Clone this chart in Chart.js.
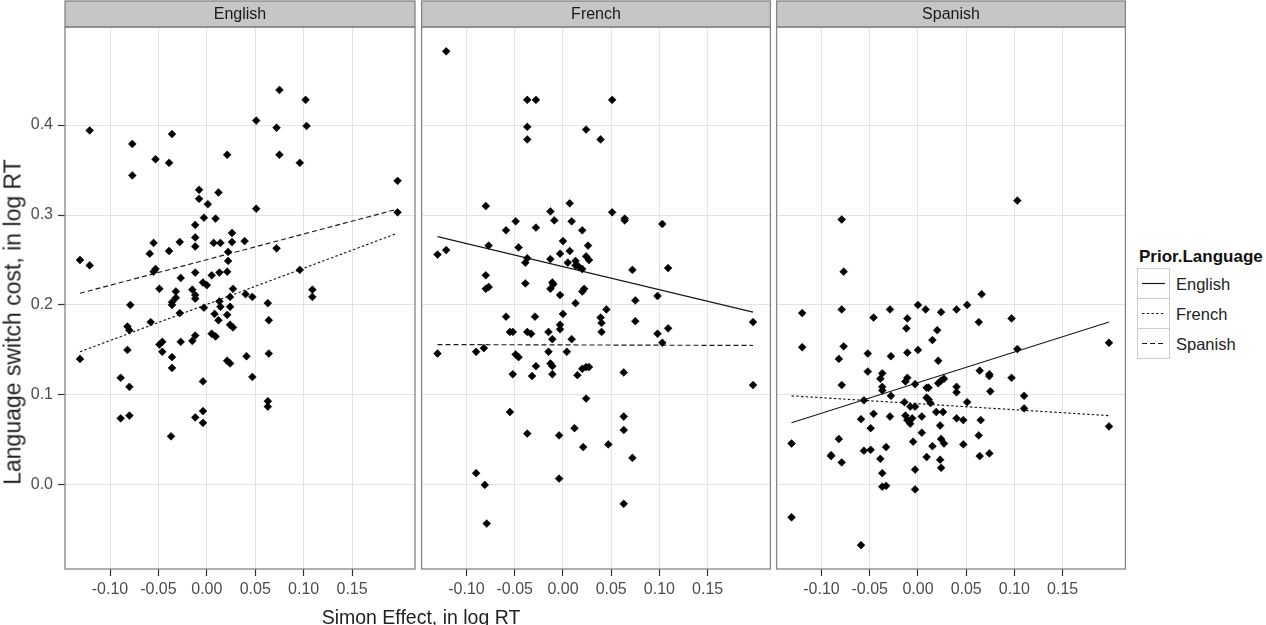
<!DOCTYPE html>
<html>
<head>
<meta charset="utf-8">
<script src="https://cdn.jsdelivr.net/npm/chart.js@4.4.1/dist/chart.umd.min.js"></script>
<style>
  html, body { margin: 0; padding: 0; background: #fff; }
  body { width: 1266px; height: 625px; position: relative; overflow: hidden; font-family: "Liberation Sans", Arial, sans-serif; }
  canvas { position: absolute; top: 0; }
  #ytitle { position: absolute; left: 13px; top: 322px; transform: translate(-50%, -50%) rotate(-90deg); white-space: nowrap; font-size: 23px; line-height: 1; color: #222; }
  #xtitle { position: absolute; left: 421px; top: 617.5px; transform: translate(-50%, -50%); white-space: nowrap; font-size: 19.5px; line-height: 1; color: #222; }
  .ltitle { position: absolute; left: 1139px; top: 256px; transform: translateY(-50%); font-weight: bold; font-size: 17px; line-height: 1; color: #111; white-space: nowrap; }
  .key { position: absolute; left: 1137px; width: 31px; height: 29px; border: 1px solid #cccccc; background: #fff; }
  .key svg { position: absolute; left: 0; top: 0; }
  .lab { position: absolute; left: 1176px; transform: translateY(-50%); font-size: 16.5px; line-height: 1; color: #222; white-space: nowrap; }
</style>
</head>
<body>
<canvas id="chart-0" width="420" height="625" style="left:0px"></canvas>
<canvas id="chart-1" width="358" height="625" style="left:416.6px"></canvas>
<canvas id="chart-2" width="358" height="625" style="left:772.2px"></canvas>

<div id="ytitle">Language switch cost, in log RT</div>
<div id="xtitle">Simon Effect, in log RT</div>

<div class="ltitle">Prior.Language</div>
<div class="key" style="top:268px"><svg width="31" height="29"><line x1="4" y1="14.5" x2="27" y2="14.5" stroke="#1a1a1a" stroke-width="1.2"/></svg></div>
<div class="key" style="top:298px"><svg width="31" height="29"><line x1="4" y1="14.5" x2="27" y2="14.5" stroke="#1a1a1a" stroke-width="1.2" stroke-dasharray="2.5 2.2"/></svg></div>
<div class="key" style="top:328px"><svg width="31" height="29"><line x1="4" y1="14.5" x2="27" y2="14.5" stroke="#1a1a1a" stroke-width="1.2" stroke-dasharray="5 3"/></svg></div>
<div class="lab" style="top:284px">English</div>
<div class="lab" style="top:314px">French</div>
<div class="lab" style="top:344px">Spanish</div>

<script>
// facets
const panelNames = ['English', 'French', 'Spanish'];
const xTickValues = [-0.10, -0.05, 0.00, 0.05, 0.10, 0.15];
const yTickValues = [0.0, 0.1, 0.2, 0.3, 0.4];

// English panel points
const englishX = [0.075, 0.102, 0.051, 0.072, 0.103, -0.121, -0.036, -0.077, -0.053, -0.039,
  0.021, 0.075, 0.096, -0.077, 0.197, -0.008, 0.012, -0.008, 0.001, 0.051,
  -0.003, 0.009, 0.197, -0.012, -0.012, 0.026, -0.055, -0.028, 0.007, 0.014,
  0.026, 0.039, -0.012, -0.059, -0.039, 0.022, 0.072, -0.131, -0.121, 0.022,
  -0.053, -0.055, -0.012, 0.021, 0.013, 0.005, 0.096, -0.027, -0.004, 0.000,
  -0.049, -0.032, -0.015, 0.027, -0.032, -0.012, -0.012, 0.040, 0.047, 0.109,
  0.109, 0.024, 0.013, -0.036, -0.036, -0.079, -0.003, 0.014, 0.024, 0.063,
  0.008, 0.021, -0.028, 0.012, 0.064, -0.058, -0.082, -0.080, 0.024, 0.027,
  -0.012, -0.015, 0.005, 0.009, -0.049, -0.046, -0.027, -0.082, -0.046, -0.131,
  -0.036, -0.036, 0.021, 0.024, 0.041, 0.064, 0.047, -0.089, -0.080, -0.004,
  0.063, 0.063, -0.089, -0.080, -0.012, -0.004, -0.004, -0.037];
const englishY = [0.439, 0.428, 0.405, 0.397, 0.399, 0.394, 0.390, 0.379, 0.362, 0.358,
  0.367, 0.367, 0.358, 0.344, 0.338, 0.328, 0.325, 0.318, 0.312, 0.307,
  0.297, 0.296, 0.303, 0.289, 0.275, 0.280, 0.269, 0.270, 0.269, 0.269,
  0.270, 0.271, 0.265, 0.257, 0.260, 0.259, 0.263, 0.250, 0.244, 0.249,
  0.240, 0.237, 0.236, 0.237, 0.236, 0.233, 0.239, 0.230, 0.225, 0.222,
  0.218, 0.215, 0.217, 0.218, 0.208, 0.207, 0.211, 0.212, 0.209, 0.217,
  0.209, 0.209, 0.204, 0.203, 0.200, 0.200, 0.197, 0.198, 0.198, 0.202,
  0.190, 0.189, 0.191, 0.183, 0.183, 0.181, 0.176, 0.172, 0.178, 0.175,
  0.166, 0.160, 0.168, 0.165, 0.156, 0.159, 0.159, 0.150, 0.148, 0.140,
  0.142, 0.130, 0.138, 0.135, 0.143, 0.146, 0.120, 0.119, 0.109, 0.115,
  0.093, 0.087, 0.074, 0.077, 0.075, 0.082, 0.069, 0.054];

// French panel points
const frenchX = [-0.121, -0.037, -0.028, 0.051, -0.037, -0.037, 0.024, 0.039, -0.080, 0.007,
  -0.013, 0.051, -0.049, -0.009, 0.009, 0.064, 0.064, 0.103, -0.059, -0.028,
  0.020, 0.000, -0.077, -0.046, 0.026, -0.130, -0.121, 0.007, -0.003, -0.037,
  -0.039, -0.013, 0.005, 0.013, 0.013, 0.016, 0.020, 0.024, 0.027, 0.072,
  0.109, -0.080, -0.039, -0.011, -0.010, -0.013, -0.080, -0.077, -0.003, 0.020,
  0.022, 0.013, 0.075, 0.098, 0.045, -0.059, -0.029, 0.000, 0.039, 0.040,
  -0.003, -0.003, 0.075, 0.197, -0.055, -0.052, -0.037, -0.033, -0.015, -0.011,
  0.009, 0.040, 0.098, 0.109, 0.103, -0.130, -0.090, -0.082, -0.015, 0.004,
  -0.049, -0.046, -0.028, -0.013, -0.011, -0.011, -0.052, -0.032, 0.015, 0.020,
  0.024, 0.027, 0.063, 0.197, 0.024, -0.055, 0.063, 0.012, -0.037, -0.004,
  0.063, 0.047, 0.021, 0.072, -0.090, -0.081, -0.004, 0.063, -0.079];
const frenchY = [0.482, 0.428, 0.428, 0.428, 0.398, 0.384, 0.395, 0.384, 0.310, 0.313,
  0.304, 0.303, 0.293, 0.294, 0.293, 0.296, 0.294, 0.290, 0.283, 0.286,
  0.283, 0.271, 0.266, 0.264, 0.266, 0.256, 0.261, 0.260, 0.257, 0.252,
  0.247, 0.251, 0.247, 0.249, 0.244, 0.243, 0.240, 0.254, 0.250, 0.239,
  0.241, 0.233, 0.224, 0.225, 0.223, 0.218, 0.218, 0.220, 0.211, 0.215,
  0.218, 0.202, 0.205, 0.210, 0.195, 0.187, 0.187, 0.190, 0.186, 0.180,
  0.178, 0.173, 0.182, 0.181, 0.170, 0.170, 0.170, 0.168, 0.170, 0.162,
  0.162, 0.170, 0.168, 0.174, 0.158, 0.146, 0.148, 0.152, 0.148, 0.148,
  0.145, 0.142, 0.132, 0.135, 0.132, 0.123, 0.123, 0.121, 0.122, 0.129,
  0.131, 0.131, 0.125, 0.111, 0.096, 0.081, 0.076, 0.063, 0.057, 0.055,
  0.061, 0.045, 0.042, 0.030, 0.013, 0.000, 0.007, -0.021, -0.043];

// Spanish panel points
const spanishX = [0.103, -0.079, -0.077, 0.066, -0.120, -0.079, -0.046, -0.029, -0.011, 0.000,
  0.008, 0.024, 0.040, 0.051, 0.063, 0.097, -0.012, 0.020, 0.015, -0.120,
  -0.077, -0.082, -0.052, -0.028, -0.011, 0.000, 0.021, 0.103, 0.198, -0.052,
  -0.037, -0.039, -0.011, -0.013, 0.064, 0.074, 0.074, 0.097, 0.024, 0.027,
  0.021, -0.079, -0.037, -0.003, 0.009, 0.011, 0.040, -0.037, 0.040, 0.075,
  0.110, -0.028, -0.056, -0.014, 0.009, 0.011, 0.013, -0.008, -0.003, 0.051,
  0.110, -0.046, -0.029, -0.059, -0.013, -0.011, -0.008, -0.006, 0.004, 0.019,
  0.026, 0.040, 0.047, 0.065, -0.049, 0.023, 0.004, 0.198, -0.131, -0.082,
  -0.005, 0.024, 0.027, 0.047, 0.063, -0.090, -0.090, -0.079, -0.056, -0.049,
  -0.033, -0.039, 0.015, 0.009, 0.023, 0.024, 0.064, 0.074, -0.003, -0.037,
  -0.037, -0.033, -0.003, -0.131, -0.059];
const spanishY = [0.316, 0.295, 0.237, 0.212, 0.191, 0.195, 0.186, 0.195, 0.185, 0.200,
  0.195, 0.192, 0.195, 0.200, 0.181, 0.185, 0.174, 0.172, 0.161, 0.153,
  0.154, 0.140, 0.146, 0.143, 0.147, 0.150, 0.138, 0.151, 0.158, 0.126,
  0.124, 0.118, 0.119, 0.115, 0.127, 0.123, 0.121, 0.119, 0.116, 0.118,
  0.113, 0.111, 0.109, 0.112, 0.108, 0.108, 0.109, 0.105, 0.103, 0.104,
  0.099, 0.099, 0.094, 0.092, 0.097, 0.095, 0.091, 0.087, 0.087, 0.092,
  0.085, 0.079, 0.076, 0.073, 0.077, 0.072, 0.068, 0.074, 0.076, 0.081,
  0.081, 0.074, 0.072, 0.072, 0.063, 0.066, 0.058, 0.065, 0.046, 0.051,
  0.048, 0.051, 0.046, 0.045, 0.055, 0.033, 0.032, 0.025, 0.038, 0.039,
  0.042, 0.029, 0.043, 0.031, 0.028, 0.019, 0.032, 0.035, 0.017, 0.013,
  -0.002, -0.001, -0.005, -0.036, -0.067];

// regression lines (end points) per panel
const englishFitX = [-0.131, 0.195];
const englishFrenchFitY = [0.148, 0.279];
const englishSpanishFitY = [0.213, 0.306];
const frenchFitX = [-0.130, 0.197];
const frenchEnglishFitY = [0.276, 0.192];
const frenchSpanishFitY = [0.156, 0.155];
const spanishFitX = [-0.131, 0.198];
const spanishEnglishFitY = [0.069, 0.181];
const spanishFrenchFitY = [0.099, 0.077];

const FONT = '"Liberation Sans", Arial, sans-serif';
const SOLID = [];
const DOTTED = [2.5, 2.2];
const DASHED = [5, 3];

// strip on top + grey frame around each panel
const panelFrame = {
    id: 'panelFrame',
    afterDraw: function (chart, args, opts) {
        const a = chart.chartArea;
        const ctx = chart.ctx;
        ctx.save();
        ctx.fillStyle = '#c6c6c6';
        ctx.fillRect(a.left, 1, a.right - a.left, a.top - 1);
        ctx.strokeStyle = '#858585';
        ctx.lineWidth = 1.3;
        ctx.strokeRect(a.left, 1, a.right - a.left, a.top - 1);
        ctx.strokeRect(a.left, a.top, a.right - a.left, a.bottom - a.top);
        ctx.fillStyle = '#1a1a1a';
        ctx.font = '16px ' + FONT;
        ctx.textAlign = 'center';
        ctx.textBaseline = 'middle';
        ctx.fillText(opts.title, (a.left + a.right) / 2, 14.5);
        ctx.restore();
    }
};

function drawPanel(graphID, xs, ys, fitX, fits, showY, padLeft, padRight) {
    const points = xs.map(function (x, i) { return { x: x, y: ys[i] }; });
    const datasets = [{
        data: points,
        pointStyle: 'rectRot',
        pointRadius: 3.9,
        backgroundColor: '#000',
        borderColor: '#000',
        borderWidth: 0.6,
        showLine: false
    }];
    fits.forEach(function (f) {
        datasets.push({
            data: fitX.map(function (x, i) { return { x: x, y: f.y[i] }; }),
            showLine: true,
            pointRadius: 0,
            borderColor: '#1a1a1a',
            borderWidth: 1.15,
            borderDash: f.dash,
            fill: false
        });
    });

    const options = {
        responsive: false,
        maintainAspectRatio: false,
        animation: false,
        layout: { padding: { left: padLeft, right: padRight, top: 27, bottom: 0 } },
        scales: {
            x: {
                type: 'linear',
                min: -0.1465,
                max: 0.2150,
                afterBuildTicks: function (s) { s.ticks = xTickValues.map(function (v) { return { value: v }; }); },
                afterFit: function (s) { s.height = 56; },
                grid: { color: '#e3e3e3', lineWidth: 1, tickColor: '#333', tickLength: 7, tickWidth: 1.2 },
                border: { display: false },
                ticks: {
                    color: '#4d4d4d',
                    font: { family: FONT, size: 16 },
                    padding: 4,
                    maxRotation: 0,
                    autoSkip: false,
                    callback: function (value) { return value.toFixed(2); }
                }
            },
            y: {
                type: 'linear',
                min: -0.0935,
                max: 0.509,
                afterBuildTicks: function (s) { s.ticks = yTickValues.map(function (v) { return { value: v }; }); },
                afterFit: function (s) { s.width = showY ? 65 : 0; },
                grid: { color: '#e3e3e3', lineWidth: 1, tickColor: '#333', tickLength: 7, tickWidth: 1.2, drawTicks: showY },
                border: { display: false },
                ticks: {
                    display: showY,
                    color: '#4d4d4d',
                    font: { family: FONT, size: 16 },
                    padding: 5,
                    callback: function (value) { return value.toFixed(1); }
                }
            }
        },
        plugins: {
            legend: { display: false },
            tooltip: { enabled: false },
            panelFrame: { title: panelNames[graphID] }
        }
    };

    const ctx = document.getElementById('chart-' + graphID).getContext('2d');
    return new Chart(ctx, {
        type: 'scatter',
        data: { datasets: datasets },
        options: options,
        plugins: [panelFrame]
    });
}

drawPanel(0, englishX, englishY, englishFitX,
    [{ y: englishFrenchFitY, dash: DOTTED }, { y: englishSpanishFitY, dash: DASHED }], true, 0, 5);
drawPanel(1, frenchX, frenchY, frenchFitX,
    [{ y: frenchEnglishFitY, dash: SOLID }, { y: frenchSpanishFitY, dash: DASHED }], false, 4, 4);
drawPanel(2, spanishX, spanishY, spanishFitX,
    [{ y: spanishEnglishFitY, dash: SOLID }, { y: spanishFrenchFitY, dash: DOTTED }], false, 4, 4);
</script>
</body>
</html>
